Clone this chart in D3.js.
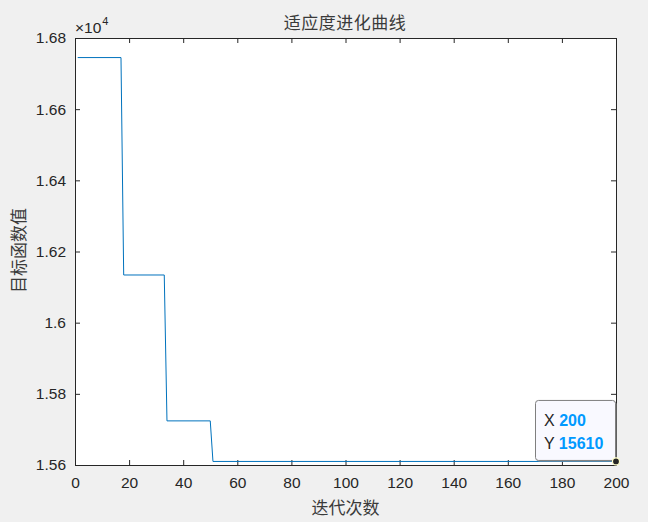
<!DOCTYPE html>
<html>
<head>
<meta charset="utf-8">
<script src="https://cdn.jsdelivr.net/npm/d3@7"></script>
<style>
  body { margin: 0; background: #f0f0f0; }
  svg { display: block; }
</style>
</head>
<body>
<div id="chart"></div>
<script>
// vertices of the fitness curve (iteration, best objective value)
var iterations = [1, 17, 18, 33, 34, 50, 51, 200]
var fitness = [16745, 16745, 16134, 16134, 15724, 15724, 15610, 15610]

var xTicks = [0, 20, 40, 60, 80, 100, 120, 140, 160, 180, 200]
var yTicks = [15600, 15800, 16000, 16200, 16400, 16600, 16800]
var yTickLabels = ['1.56', '1.58', '1.6', '1.62', '1.64', '1.66', '1.68']

var tip = { x: 200, y: 15610 }

var outerWidth = 648, outerHeight = 522
var margin = { top: 38, right: 32, bottom: 57, left: 75 }
var width = outerWidth - margin.left - margin.right,
  height = outerHeight - margin.top - margin.bottom

var svg = d3.select('#chart')
  .append('svg')
  .attr('width', outerWidth)
  .attr('height', outerHeight)
  .style('font-family', '"Liberation Sans", Arial, sans-serif')

var plot = svg.append('g')
  .attr('transform', 'translate(' + margin.left + ',' + margin.top + ')')

var x = d3.scaleLinear().domain([0, 200]).range([0, width])
var y = d3.scaleLinear().domain([15600, 16800]).range([height, 0])

plot.append('rect')
  .attr('width', width)
  .attr('height', height)
  .attr('fill', '#fff')

// axes, ticks pointing inward like matlab
function styleAxis(g) {
  g.select('.domain').attr('stroke', '#262626')
  g.selectAll('.tick line').attr('stroke', '#262626')
  g.selectAll('.tick text').attr('fill', '#262626').style('font-size', '15.5px')
}

plot.append('g')
  .attr('transform', 'translate(0,' + height + ')')
  .call(d3.axisBottom(x).tickValues(xTicks).tickSizeInner(-5).tickSizeOuter(0).tickPadding(12))
  .call(styleAxis)

plot.append('g')
  .call(d3.axisTop(x).tickValues(xTicks).tickSizeInner(-5).tickSizeOuter(0).tickFormat(''))
  .call(styleAxis)

plot.append('g')
  .call(d3.axisLeft(y).tickValues(yTicks).tickSizeInner(-5).tickSizeOuter(0).tickPadding(9)
    .tickFormat(function (d, i) { return yTickLabels[i] }))
  .call(styleAxis)

plot.append('g')
  .attr('transform', 'translate(' + width + ',0)')
  .call(d3.axisRight(y).tickValues(yTicks).tickSizeInner(-5).tickSizeOuter(0).tickFormat(''))
  .call(styleAxis)

// exponent label
var expo = svg.append('text')
  .attr('x', margin.left)
  .attr('y', 33)
  .attr('fill', '#262626')
  .style('font-size', '15.5px')
expo.append('tspan').text('×10')
expo.append('tspan').attr('dy', -8).attr('dx', 1).style('font-size', '11px').text('4')

// curve
var line = d3.line()
  .x(function (d) { return x(d[0]) })
  .y(function (d) { return y(d[1]) })

plot.append('path')
  .datum(d3.zip(iterations, fitness))
  .attr('fill', 'none')
  .attr('stroke', '#0072BD')
  .attr('stroke-width', 1)
  .attr('d', line)

// title and labels
var cjk = '"Noto Sans CJK SC", sans-serif'
svg.append('text')
  .attr('x', 345)
  .attr('y', 29)
  .attr('text-anchor', 'middle')
  .attr('fill', '#3a3a3a')
  .style('font-family', cjk)
  .style('font-size', '17px')
  .style('letter-spacing', '0.5px')
  .text('适应度进化曲线')

svg.append('text')
  .attr('x', 345.5)
  .attr('y', 514)
  .attr('text-anchor', 'middle')
  .attr('fill', '#3a3a3a')
  .style('font-family', cjk)
  .style('font-size', '17px')
  .text('迭代次数')

svg.append('text')
  .attr('transform', 'translate(25,' + 250.5 + ') rotate(-90)')
  .attr('text-anchor', 'middle')
  .attr('fill', '#3a3a3a')
  .style('font-family', cjk)
  .style('font-size', '17px')
  .text('目标函数值')

// data tip
var tx = x(tip.x), ty = y(tip.y)
var tipG = plot.append('g')
tipG.append('rect')
  .attr('x', tx - 79.5)
  .attr('y', ty - 60)
  .attr('width', 80)
  .attr('height', 60)
  .attr('rx', 3)
  .attr('fill', '#999')
tipG.append('rect')
  .attr('x', tx - 80.5)
  .attr('y', ty - 61)
  .attr('width', 80)
  .attr('height', 60)
  .attr('rx', 3)
  .attr('fill', '#f9f9ff')
  .attr('stroke', '#7f7f7f')
  .attr('stroke-width', 1)

var rows = [['X', tip.x], ['Y', tip.y]]
rows.forEach(function (r, i) {
  var t = tipG.append('text')
    .attr('x', tx - 72)
    .attr('y', ty - 35.5 + i * 22.7)
    .style('font-size', '16px')
  t.append('tspan').attr('fill', '#262626').text(r[0] + ' ')
  t.append('tspan').attr('fill', '#0099ff').attr('font-weight', 'bold').text(r[1])
})

tipG.append('circle')
  .attr('cx', tx)
  .attr('cy', ty)
  .attr('r', 3.5)
  .attr('fill', '#262626')
  .attr('stroke', '#ffffcc')
  .attr('stroke-width', 1.2)
</script>
</body>
</html>
